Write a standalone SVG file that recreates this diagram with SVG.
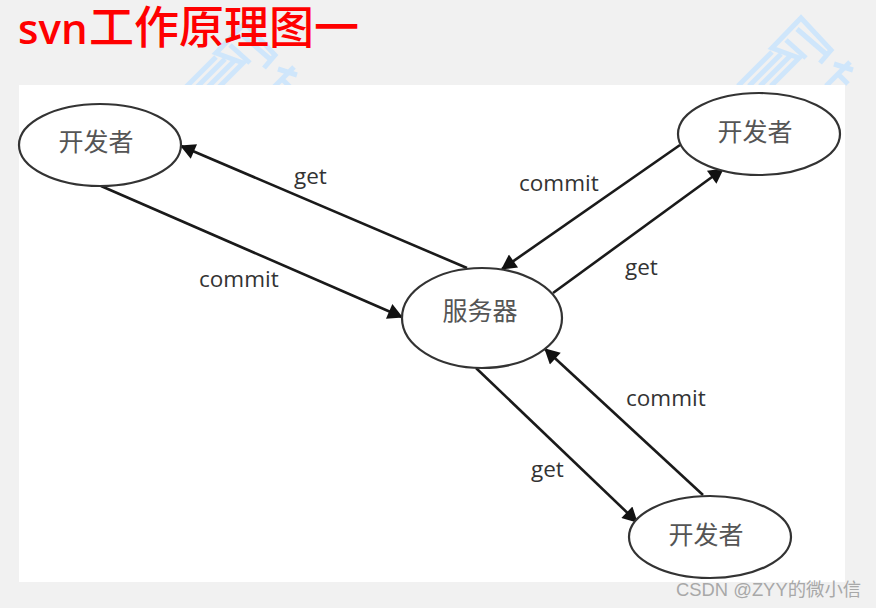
<svg xmlns="http://www.w3.org/2000/svg" width="876" height="608" viewBox="0 0 876 608">
<style>
.n{fill:#fff;stroke:#333;stroke-width:2.2}
.c{fill:none;stroke:#1a1a1a;stroke-width:2.6;marker-end:url(#a)}
.l{font-family:"Open Sans","Liberation Sans",sans-serif;font-size:22.5px;fill:#333}
.t{font-family:"Noto Sans CJK SC",sans-serif;font-size:25px;fill:#555;text-anchor:middle}
.w{fill:none;stroke:#cfe6fb;stroke-width:5}
</style>
<defs>
<marker id="a" markerUnits="userSpaceOnUse" markerWidth="16" markerHeight="16" refX="15" refY="8" orient="auto"><path d="M1 0L16 8L1 16z" fill="#111"/></marker>
<path id="m" class="w" d="M738 86L772 52M749 86L781 54M760 86L790 56M771 86L799 58L772 48L801 18L831 50L820 63M786 40L806 58M797 29L826 54M826 86L850 62M834 64L853 70M838 74L848 84"/>
</defs>
<rect width="876" height="608" fill="#f1f1f1"/>
<g id="watermark">
<use href="#m"/>
<use href="#m" x="-556" y="5"/>
</g>
<rect x="19" y="85" width="826" height="497" fill="#fff"/>
<text id="title" x="18" y="44" font-family="'Open Sans','Noto Sans CJK SC',sans-serif" font-size="42" font-weight="600" fill="#f00">svn<tspan font-family="'Noto Sans CJK SC',sans-serif" font-size="45" font-weight="500" x="89">工作原理图一</tspan></text>
<g id="connectors">
<path class="c" d="M467 268L181 146"/>
<path class="c" d="M101 186L402 317"/>
<path class="c" d="M680 145L502 269"/>
<path class="c" d="M553 293L723 169"/>
<path class="c" d="M476 368L637 522"/>
<path class="c" d="M703 495L545 349"/>
</g>
<g id="labels">
<text class="l" x="294" y="183.500">get</text>
<text class="l" x="199" y="287">commit</text>
<text class="l" x="519" y="191">commit</text>
<text class="l" x="625" y="275">get</text>
<text class="l" x="626" y="406">commit</text>
<text class="l" x="531" y="477">get</text>
</g>
<g id="node-tl"><ellipse class="n" cx="100" cy="145" rx="81" ry="41"/><text class="t" x="96" y="151">开发者</text></g>
<g id="node-tr"><ellipse class="n" cx="759" cy="134" rx="81" ry="41"/><text class="t" x="755" y="141">开发者</text></g>
<g id="node-server"><ellipse class="n" cx="482" cy="318" rx="80" ry="50"/><text class="t" x="480" y="320">服务器</text></g>
<g id="node-br"><ellipse class="n" cx="710" cy="537" rx="81" ry="41"/><text class="t" x="706" y="544">开发者</text></g>
<text id="wm" x="676" y="596" font-family="'Liberation Sans','Noto Sans CJK SC',sans-serif" font-size="18.4" fill="#a8a8a8">CSDN @ZYY<tspan font-family="'Noto Sans CJK SC',sans-serif">的微小信</tspan></text>
</svg>
